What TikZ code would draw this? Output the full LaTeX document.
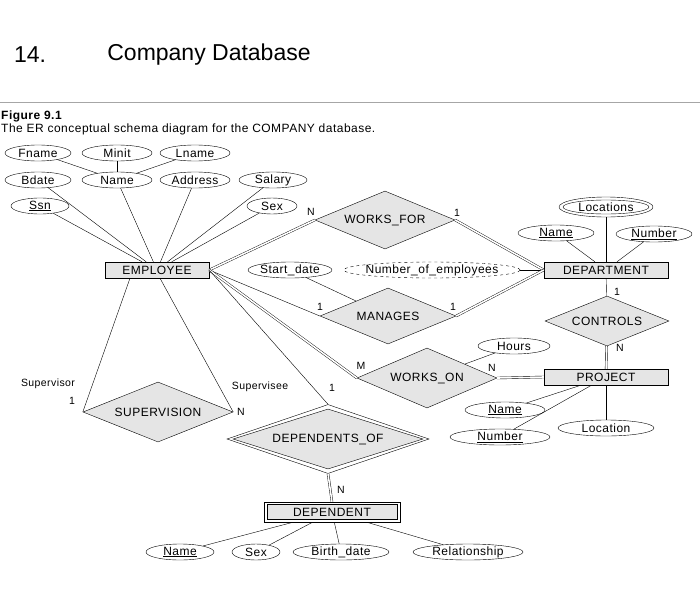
\documentclass[tikz,border=0pt]{standalone}
\usepackage{fontspec}
\setmainfont{Liberation Sans}[LetterSpace=4]
\usetikzlibrary{shapes.geometric}
\begin{document}
\begin{tikzpicture}[x=1pt,y=-1pt,
 every node/.style={font=\fontsize{12}{12}\selectfont},
 att/.style={draw,ellipse,inner sep=0pt,minimum height=16pt},
 ent/.style={draw,fill=gray!20,rectangle,minimum height=16pt,inner sep=0pt},
 rel/.style={draw,fill=gray!20,diamond,aspect=2.4,inner sep=0pt},
 outer/.style={draw,inner sep=0pt},
 dbl/.style={double,double distance=1.6pt},
 lab/.style={font=\fontsize{10.5}{11}\selectfont}]
\useasboundingbox (0,0) rectangle (700,602);
\node[font=\fontsize{23}{24}\selectfont\addfontfeatures{LetterSpace=0}] (t1) at (30,55) {14.};
\node[font=\fontsize{23}{24}\selectfont\addfontfeatures{LetterSpace=0}] (t2) at (209,55) {Company Database};
\draw[gray!70,line width=1pt] (0,102) -- (700,102);
\node[anchor=west,inner sep=0pt,font=\bfseries\fontsize{12}{12}\selectfont] (f1) at (1,116) {Figure 9.1};
\node[anchor=west,inner sep=0pt,font=\fontsize{12}{12}\selectfont] (f2) at (1,129) {The ER conceptual schema diagram for the COMPANY database.};
% employee attributes
\node[att,minimum width=66pt] (fn) at (38,153) {Fname};
\node[att,minimum width=70pt] (mi) at (117,153) {Minit};
\node[att,minimum width=70pt] (ln) at (195,153) {Lname};
\node[att,minimum width=66pt] (bd) at (38,180) {Bdate};
\node[att,minimum width=70pt] (nm) at (117,180) {Name};
\node[att,minimum width=70pt] (ad) at (195,180) {Address};
\node[att,minimum width=68pt] (sa) at (273,180) {Salary};
\node[att,minimum width=58pt] (ss) at (40,206) {\underline{Ssn}};
\node[att,minimum width=50pt] (sx) at (272,206) {Sex};
\node[ent,minimum width=104pt] (emp) at (157,270) {EMPLOYEE};
\draw (fn) -- (nm); \draw (mi) -- (nm); \draw (ln) -- (nm);
\foreach \a in {bd,nm,ad,sa,ss,sx} \draw (\a) -- (emp);
% department
\node[att,minimum width=86pt,minimum height=14pt,inner sep=-2pt] (loc) at (606,207) {Locations};
\node[outer,ellipse,minimum width=94pt,minimum height=20pt] (locO) at (606,207) {};
\node[ent,minimum width=124pt] (dep) at (606,270) {DEPARTMENT};
\node[att,minimum width=76pt] (dn) at (556,233) {\underline{Name}};
\node[att,minimum width=76pt] (dnu) at (654,234) {\underline{Number}};
\draw (locO) -- (dep); \draw (dn) -- (dep); \draw (dnu) -- (dep);
\node[att,minimum width=168pt,dashed,inner sep=-4pt] (noe) at (432,270) {Number\_of\_employees};
\draw (noe) -- (dep);
% works_for
\node[rel,minimum width=140pt,minimum height=58pt] (wf) at (385,220) {WORKS\_FOR};
\draw[dbl] (emp.east) -- (wf.west);
\draw[dbl] (wf.east) -- (dep.west);
\node[lab] (l1) at (311,212) {N};
\node[lab] (l2) at (457,213) {1};
% manages
\node[rel,minimum width=136pt,minimum height=56pt] (mg) at (388,316) {MANAGES};
\node[att,minimum width=84pt,inner sep=-3pt] (sd) at (290,270) {Start\_date};
\draw (sd) -- (mg);
\draw (emp.east) -- (mg.west);
\draw[dbl] (mg.east) -- (dep.west);
\node[lab] (l3) at (320,307) {1};
\node[lab] (l4) at (453,307) {1};
% project
\node[ent,minimum width=124pt] (prj) at (606,377) {PROJECT};
\node[rel,minimum width=124pt,minimum height=50pt] (ct) at (607,321) {CONTROLS};
\draw (dep) -- (ct);
\draw[dbl] (ct) -- (prj);
\node[lab] (l5) at (617,292) {1};
\node[lab] (l6) at (620,348) {N};
\node[att,minimum width=80pt] (pn) at (505,410) {\underline{Name}};
\node[att,minimum width=100pt] (pnu) at (500,437) {\underline{Number}};
\node[att,minimum width=96pt] (plo) at (606,428) {Location};
\draw (pn) -- (prj); \draw (pnu) -- (prj); \draw (plo) -- (prj);
% works_on
\node[rel,minimum width=140pt,minimum height=60pt] (wo) at (427,378) {WORKS\_ON};
\node[att,minimum width=72pt] (hr) at (514,346) {Hours};
\draw (hr) -- (wo);
\draw[dbl] (emp.east) -- (wo.west);
\draw[dbl] (wo.east) -- (prj.west);
\node[lab] (l7) at (361,366) {M};
\node[lab] (l8) at (492,368) {N};
% supervision
\node[rel,minimum width=150pt,minimum height=60pt] (sup) at (158,412) {SUPERVISION};
\coordinate (e1) at (130,278); \coordinate (e2) at (160,278);
\draw (emp.south -| e1) -- (sup.west);
\draw (emp.south -| e2) -- (sup.east);
\node[lab] (l9) at (48,384) {Supervisor};
\node[lab] (l10) at (72,401) {1};
\node[lab] (l11) at (260,387) {Supervisee};
\node[lab] (l12) at (241,412) {N};
% dependents
\node[outer,diamond,aspect=2.94,minimum width=202pt,minimum height=69pt] (dof) at (328,439) {};
\node[rel,aspect=2.94,minimum width=190pt,minimum height=60pt] (dofI) at (328,439) {DEPENDENTS\_OF};
\draw (emp.east) -- (dof.north);
\node[lab] (l13) at (332,388) {1};
\node[outer,rectangle,minimum width=136pt,minimum height=20pt] (dpt) at (332,512) {};
\node[ent,minimum width=130pt,minimum height=15pt] (dptI) at (332,512) {DEPENDENT};
\draw[dbl] (dof.south) -- (dpt.north);
\node[lab] (l14) at (341,490) {N};
\node[att,minimum width=68pt] (dn2) at (180,552) {\underline{Name}};
\node[att,minimum width=48pt] (ds) at (256,552) {Sex};
\node[att,minimum width=96pt] (db) at (341,552) {Birth\_date};
\node[att,minimum width=110pt] (dr) at (468,552) {Relationship};
\foreach \a in {dn2,ds,db,dr} \draw (\a) -- (dpt);
\end{tikzpicture}
\end{document}
